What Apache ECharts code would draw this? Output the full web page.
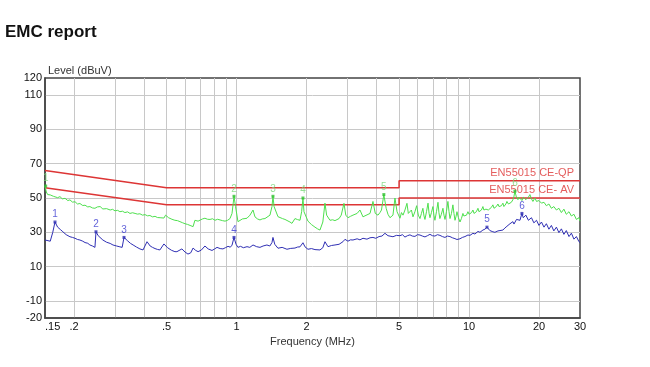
<!DOCTYPE html>
<html>
<head>
<meta charset="utf-8">
<script src="https://cdn.jsdelivr.net/npm/echarts@6/dist/echarts.min.js"></script>
<style>
html,body{margin:0;padding:0;background:#fff;}
#chart{width:650px;height:367px;}
</style>
</head>
<body>
<div id="chart"></div>
<script>
// ---- Data (frequency in MHz, level in dBuV) ----
var xLabelValues = [0.15, 0.2, 0.5, 1, 2, 5, 10, 20, 30];
var xGridValues = [0.2, 0.3, 0.4, 0.5, 0.6, 0.7, 0.8, 0.9, 1, 2, 3, 4, 5, 6, 7, 8, 9, 10, 20];
var yLabelValues = [-20, -10, 10, 30, 50, 70, 90, 110, 120];
var yGridValues = [-10, 10, 30, 50, 70, 90, 110];

var limitQP = [[0.15, 66], [0.5, 56], [5, 56], [5, 60], [30, 60]];
var limitAV = [[0.15, 56], [0.5, 46], [5, 46], [5, 50], [30, 50]];
var limitQPName = 'EN55015 CE-QP';
var limitAVName = 'EN55015 CE- AV';

var qpScan = [
  [0.150, 57.0], [0.152, 53.5], [0.154, 52.0], [0.156, 53.0], [0.158, 51.8], [0.160, 52.5],
  [0.163, 51.0], [0.166, 51.8], [0.170, 50.2], [0.174, 50.8], [0.178, 49.5], [0.183, 49.8],
  [0.188, 48.5], [0.192, 48.9], [0.197, 47.6], [0.202, 47.8], [0.207, 46.5], [0.212, 46.8],
  [0.218, 45.6], [0.223, 45.8], [0.229, 44.8], [0.234, 45.0], [0.240, 44.2], [0.246, 44.0],
  [0.252, 44.8], [0.259, 45.0], [0.266, 43.6], [0.276, 43.8], [0.286, 43.0], [0.293, 43.4],
  [0.300, 42.5], [0.308, 42.8], [0.315, 42.0], [0.323, 42.3], [0.331, 41.5], [0.340, 41.9],
  [0.348, 41.0], [0.357, 41.4], [0.366, 41.0], [0.375, 40.6], [0.384, 40.8], [0.394, 40.0],
  [0.404, 40.3], [0.414, 39.6], [0.424, 39.8], [0.435, 39.0], [0.446, 39.3], [0.457, 38.6],
  [0.469, 38.5], [0.478, 38.0], [0.487, 38.3], [0.495, 40.0], [0.510, 38.5], [0.527, 37.6],
  [0.543, 37.0], [0.557, 36.8], [0.571, 36.2], [0.585, 35.6], [0.600, 35.0], [0.615, 34.6],
  [0.631, 34.0], [0.650, 33.3], [0.662, 37.0], [0.683, 36.5], [0.696, 37.5], [0.714, 37.8],
  [0.731, 38.2], [0.750, 37.6], [0.769, 37.5], [0.788, 37.9], [0.808, 37.0], [0.828, 37.6],
  [0.849, 37.2], [0.870, 36.8], [0.892, 36.5], [0.915, 37.0], [0.937, 38.0], [0.956, 41.0],
  [0.975, 51.0], [0.990, 45.0], [1.014, 36.2], [1.034, 37.0], [1.060, 37.8], [1.087, 38.0],
  [1.109, 38.2], [1.142, 40.0], [1.177, 43.0], [1.200, 39.0], [1.230, 37.8], [1.261, 37.2],
  [1.290, 37.8], [1.325, 38.0], [1.351, 38.5], [1.392, 40.0], [1.420, 45.0], [1.434, 51.0],
  [1.450, 45.0], [1.507, 39.1], [1.537, 38.5], [1.575, 38.0], [1.615, 37.5], [1.647, 37.2],
  [1.697, 36.0], [1.731, 35.2], [1.783, 38.0], [1.830, 37.4], [1.874, 37.0], [1.905, 42.0],
  [1.930, 50.0], [1.950, 42.0], [2.028, 36.5], [2.100, 34.5], [2.174, 33.0], [2.230, 32.0],
  [2.284, 31.3], [2.350, 36.0], [2.400, 47.0], [2.440, 40.0], [2.522, 37.0], [2.590, 37.3],
  [2.650, 36.8], [2.703, 37.0], [2.760, 38.0], [2.820, 40.0], [2.897, 46.9], [2.950, 40.0],
  [3.014, 38.5], [3.090, 39.3], [3.167, 40.0], [3.230, 39.2], [3.300, 41.0], [3.394, 43.0],
  [3.497, 39.0], [3.567, 39.6], [3.638, 38.5], [3.750, 41.0], [3.861, 48.0], [3.950, 41.0],
  [4.057, 40.0], [4.138, 41.5], [4.200, 43.0], [4.300, 52.0], [4.400, 44.0], [4.479, 40.5],
  [4.569, 38.5], [4.706, 40.0], [4.800, 50.0], [4.900, 42.0], [5.044, 38.2], [5.120, 41.5],
  [5.200, 40.0], [5.300, 43.0], [5.406, 46.9], [5.480, 41.0], [5.569, 40.0], [5.650, 43.0],
  [5.737, 39.0], [5.850, 42.0], [5.950, 45.5], [6.050, 40.0], [6.149, 38.0], [6.240, 41.0],
  [6.330, 44.0], [6.400, 39.5], [6.460, 37.5], [6.560, 42.0], [6.660, 47.0], [6.730, 41.0],
  [6.790, 38.5], [6.890, 41.5], [6.990, 45.0], [7.060, 40.0], [7.130, 37.0], [7.240, 42.0],
  [7.350, 47.5], [7.420, 41.5], [7.490, 38.0], [7.600, 40.5], [7.720, 44.0], [7.800, 40.0],
  [7.880, 37.5], [7.990, 42.0], [8.110, 48.0], [8.200, 42.0], [8.280, 38.0], [8.400, 41.0],
  [8.520, 46.0], [8.610, 41.0], [8.700, 37.0], [8.780, 39.0], [8.870, 42.0], [9.000, 38.5],
  [9.140, 36.0], [9.270, 38.0], [9.410, 41.0], [9.500, 39.5], [9.600, 38.5], [9.750, 40.0],
  [9.890, 42.0], [10.00, 40.5], [10.09, 40.0], [10.25, 41.5], [10.39, 43.0], [10.50, 41.0],
  [10.60, 40.5], [10.75, 42.0], [10.92, 44.0], [11.03, 42.0], [11.14, 41.0], [11.30, 43.0],
  [11.47, 45.0], [11.58, 43.0], [11.70, 42.0], [11.82, 43.5], [11.94, 44.0], [12.10, 43.0],
  [12.29, 42.5], [12.47, 44.5], [12.66, 46.0], [12.80, 44.0], [12.92, 43.0], [13.10, 45.0],
  [13.31, 46.5], [13.45, 45.0], [13.57, 44.0], [13.78, 45.5], [13.98, 47.0], [14.12, 45.0],
  [14.26, 44.5], [14.40, 46.5], [14.55, 48.0], [14.77, 46.5], [14.99, 46.0], [15.20, 47.5],
  [15.44, 49.0], [15.60, 51.0], [15.75, 54.0], [15.98, 50.5], [16.23, 49.0], [16.40, 50.5],
  [16.55, 51.5], [16.70, 49.5], [16.88, 48.5], [17.10, 50.5], [17.39, 51.0], [17.55, 49.0],
  [17.74, 49.0], [18.00, 50.5], [18.27, 52.0], [18.55, 49.5], [18.82, 48.0], [19.00, 49.0],
  [19.20, 50.0], [19.50, 48.0], [19.78, 47.5], [19.98, 48.5], [20.17, 49.0], [20.48, 47.0],
  [20.78, 46.0], [21.00, 47.5], [21.20, 47.5], [21.50, 45.5], [21.84, 45.0], [22.05, 46.5],
  [22.27, 46.0], [22.60, 44.0], [22.94, 43.5], [23.15, 45.0], [23.40, 45.0], [23.75, 43.0],
  [24.11, 42.5], [24.35, 44.0], [24.59, 43.5], [24.95, 41.5], [25.33, 41.5], [25.58, 43.5],
  [25.84, 43.0], [26.20, 40.5], [26.62, 40.0], [26.90, 42.0], [27.15, 41.5], [27.55, 39.5],
  [27.97, 39.0], [28.25, 40.5], [28.53, 40.0], [28.95, 37.5], [29.39, 37.0], [29.70, 38.5],
  [30.00, 36.5]
];

var avScan = [
  [0.150, 25.5], [0.153, 24.5], [0.158, 24.8], [0.162, 30.0], [0.1656, 36.0], [0.170, 33.0],
  [0.175, 31.5], [0.179, 30.3], [0.185, 28.6], [0.192, 27.4], [0.197, 27.0], [0.202, 26.5],
  [0.207, 25.8], [0.212, 25.5], [0.218, 24.8], [0.223, 24.0], [0.229, 23.6], [0.234, 22.6],
  [0.240, 22.0], [0.246, 21.2], [0.2485, 30.3], [0.254, 28.0], [0.259, 27.0], [0.266, 25.5],
  [0.276, 24.2], [0.286, 23.5], [0.294, 22.6], [0.305, 22.0], [0.315, 21.5], [0.322, 21.2],
  [0.328, 27.0], [0.340, 25.0], [0.350, 23.5], [0.359, 22.6], [0.371, 21.4], [0.384, 20.3],
  [0.396, 19.7], [0.412, 24.5], [0.425, 22.0], [0.435, 21.2], [0.446, 20.5], [0.457, 20.0],
  [0.468, 19.7], [0.487, 23.2], [0.505, 21.0], [0.525, 19.5], [0.543, 18.7], [0.554, 18.7],
  [0.582, 20.3], [0.600, 18.5], [0.618, 17.3], [0.635, 18.0], [0.650, 20.8], [0.666, 19.5],
  [0.683, 18.7], [0.705, 19.6], [0.731, 22.0], [0.755, 20.3], [0.784, 19.4], [0.805, 20.3],
  [0.824, 21.2], [0.850, 20.5], [0.874, 20.3], [0.895, 21.0], [0.919, 21.8], [0.940, 21.3],
  [0.956, 22.5], [0.975, 27.0], [0.995, 23.0], [1.014, 21.2], [1.040, 21.8], [1.070, 21.0],
  [1.109, 21.6], [1.140, 21.2], [1.177, 22.6], [1.220, 21.6], [1.261, 21.2], [1.300, 22.0],
  [1.351, 22.6], [1.390, 22.0], [1.420, 24.0], [1.434, 27.0], [1.460, 23.0], [1.507, 20.7],
  [1.570, 21.2], [1.647, 20.1], [1.710, 20.6], [1.783, 20.8], [1.830, 21.4], [1.874, 21.5],
  [1.930, 23.9], [1.970, 21.5], [2.028, 20.1], [2.100, 20.5], [2.174, 19.9], [2.284, 19.7],
  [2.350, 21.0], [2.400, 24.5], [2.473, 21.6], [2.560, 22.3], [2.650, 22.6], [2.760, 23.0],
  [2.868, 24.5], [2.926, 25.9], [3.014, 24.8], [3.090, 25.6], [3.167, 25.5], [3.300, 26.2],
  [3.394, 25.6], [3.497, 26.5], [3.638, 26.0], [3.750, 26.8], [3.861, 27.0], [3.970, 26.5],
  [4.100, 27.5], [4.220, 27.8], [4.348, 29.4], [4.480, 28.0], [4.569, 28.5], [4.706, 27.4],
  [4.870, 28.2], [5.044, 28.0], [5.170, 28.6], [5.300, 27.2], [5.430, 28.0], [5.569, 28.5],
  [5.700, 27.8], [5.852, 27.6], [6.000, 28.6], [6.149, 28.4], [6.300, 27.8], [6.461, 27.3],
  [6.620, 28.0], [6.788, 28.8], [6.960, 28.0], [7.133, 27.8], [7.310, 28.6], [7.494, 28.2],
  [7.680, 27.5], [7.875, 27.0], [8.070, 27.8], [8.275, 27.5], [8.480, 26.8], [8.695, 26.3],
  [8.869, 25.8], [9.000, 26.5], [9.136, 26.2], [9.360, 27.0], [9.601, 27.5], [9.750, 27.0],
  [9.888, 28.4], [10.09, 28.2], [10.39, 29.4], [10.60, 29.0], [10.92, 30.5], [11.14, 30.0],
  [11.47, 31.3], [11.70, 31.8], [11.94, 33.0], [12.10, 32.0], [12.29, 31.0], [12.47, 31.6],
  [12.66, 30.3], [12.92, 30.0], [13.31, 30.8], [13.57, 30.2], [13.98, 31.3], [14.26, 32.5],
  [14.55, 33.5], [14.77, 33.0], [15.00, 35.0], [15.20, 34.2], [15.44, 36.2], [15.60, 34.8],
  [15.75, 35.0], [16.00, 37.5], [16.23, 38.0], [16.55, 37.0], [16.88, 41.0], [17.10, 38.5],
  [17.39, 38.0], [17.55, 40.0], [17.74, 39.5], [18.00, 37.0], [18.27, 36.5], [18.55, 38.5],
  [18.82, 38.0], [19.00, 35.5], [19.20, 35.0], [19.50, 37.0], [19.78, 36.5], [19.98, 34.0],
  [20.17, 34.0], [20.48, 36.0], [20.78, 35.5], [21.00, 33.0], [21.20, 33.0], [21.50, 35.0],
  [21.84, 34.5], [22.05, 31.8], [22.27, 32.0], [22.60, 34.0], [22.94, 33.5], [23.15, 30.8],
  [23.40, 31.0], [23.75, 33.0], [24.11, 32.5], [24.35, 29.8], [24.59, 30.0], [24.95, 32.0],
  [25.33, 31.5], [25.58, 28.8], [25.84, 29.0], [26.20, 31.0], [26.62, 30.0], [26.90, 27.5],
  [27.15, 27.5], [27.55, 29.5], [27.97, 29.0], [28.25, 26.0], [28.53, 26.0], [28.95, 27.5],
  [29.39, 27.0], [29.70, 24.5], [30.00, 24.0]
];

var qpMarkers = [[0.151, 57.0], [0.975, 51.0], [1.434, 51.0], [1.930, 50.0], [4.300, 52.0], [15.75, 54.0]];
var avMarkers = [[0.1656, 36.0], [0.2485, 30.3], [0.328, 27.0], [0.975, 27.0], [11.94, 33.0], [16.88, 41.0]];

// ---- Chart ----
var chart = echarts.init(document.getElementById('chart'), null, {renderer: 'canvas'});
var fontFam = '"Liberation Sans", Arial, sans-serif';
var red = '#dd3535';
var green = '#4ee04e';
var blue = '#2f2fb4';

function markerLabelFormatter(p) { return String(p.dataIndex + 1); }

var option = {
  animation: false,
  backgroundColor: '#ffffff',
  title: {
    text: 'EMC report',
    left: 0, top: 19,
    textStyle: {fontFamily: fontFam, fontSize: 17, fontWeight: 'bold', color: '#111'}
  },
  grid: {left: 45, right: 70, top: 78, bottom: 49, show: true, borderColor: '#444', borderWidth: 1.5, containLabel: false},
  xAxis: {
    type: 'log', logBase: 10, min: 0.15, max: 30,
    name: 'Frequency (MHz)', nameLocation: 'middle', nameGap: 18,
    nameTextStyle: {fontFamily: fontFam, fontSize: 11, color: '#333'},
    axisLine: {show: true, onZero: false, lineStyle: {color: '#444', width: 1.5}},
    axisTick: {show: false, customValues: xGridValues},
    splitLine: {show: true, lineStyle: {color: '#c8c8c8', width: 1}},
    minorTick: {show: false}, minorSplitLine: {show: false},
    axisLabel: {
      customValues: xLabelValues, margin: 3,
      fontFamily: fontFam, fontSize: 11, color: '#111',
      alignMinLabel: 'left',
      formatter: function (v) { return v < 1 ? String(v).replace(/^0/, '') : String(v); }
    }
  },
  yAxis: {
    type: 'value', min: -20, max: 120,
    name: 'Level (dBuV)', nameLocation: 'end', nameGap: 2,
    nameTextStyle: {fontFamily: fontFam, fontSize: 11, color: '#333', align: 'left', verticalAlign: 'bottom', padding: [0, 0, 0, 3]},
    axisLine: {show: true, onZero: false, lineStyle: {color: '#444', width: 1.5}},
    axisTick: {show: false, customValues: yGridValues},
    splitLine: {show: true, lineStyle: {color: '#c8c8c8', width: 1}},
    axisLabel: {customValues: yLabelValues, margin: 3, fontFamily: fontFam, fontSize: 11, color: '#111'}
  },
  series: [
    {type: 'line', name: limitQPName, data: limitQP, showSymbol: false, z: 2,
     lineStyle: {color: red, width: 1.5}},
    {type: 'line', name: limitAVName, data: limitAV, showSymbol: false, z: 2,
     lineStyle: {color: red, width: 1.5}},
    {type: 'scatter', data: [limitQP[limitQP.length - 1]], symbolSize: 0, z: 3, silent: true,
     label: {show: true, position: 'left', offset: [-1, -8], formatter: limitQPName,
             fontFamily: fontFam, fontSize: 11, color: red}},
    {type: 'scatter', data: [limitAV[limitAV.length - 1]], symbolSize: 0, z: 3, silent: true,
     label: {show: true, position: 'left', offset: [-1, -8], formatter: limitAVName,
             fontFamily: fontFam, fontSize: 11, color: red}},
    {type: 'line', name: 'QP scan', data: qpScan, showSymbol: false, z: 4,
     lineStyle: {color: green, width: 1}},
    {type: 'line', name: 'AV scan', data: avScan, showSymbol: false, z: 5,
     lineStyle: {color: blue, width: 1}},
    {type: 'scatter', data: qpMarkers, symbol: 'rect', symbolSize: 3, z: 6,
     itemStyle: {color: '#2fbf2f'},
     label: {show: true, position: 'top', distance: 1, formatter: markerLabelFormatter,
             fontFamily: fontFam, fontSize: 10, color: '#7ad87a'}},
    {type: 'scatter', data: avMarkers, symbol: 'rect', symbolSize: 3, z: 7,
     itemStyle: {color: blue},
     label: {show: true, position: 'top', distance: 1, formatter: markerLabelFormatter,
             fontFamily: fontFam, fontSize: 10, color: '#3a3ad0'}}
  ]
};
chart.setOption(option);
</script>
</body>
</html>
